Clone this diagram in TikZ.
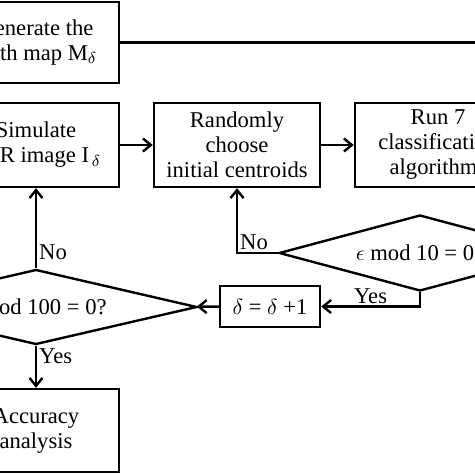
\documentclass[tikz,border=0pt]{standalone}
\usepackage{fontspec}
\setmainfont{Liberation Serif}
\usetikzlibrary{shapes.geometric,arrows.meta}

\begin{document}
\begin{tikzpicture}
  [x=0.5pt,y=-0.5pt,line width=1.2pt,>={Straight Barb[length=4pt,width=6.5pt]},
   font=\fontsize{11.3}{12.5}\selectfont,
   block/.style={draw,rectangle,align=center,minimum width=83pt,minimum height=42pt,inner sep=2pt},
   test/.style={draw,diamond,aspect=4,inner sep=0pt,align=center},
   tag/.style={inner sep=1pt}]
  \useasboundingbox (0,0) rectangle (474,474);

  \node[block,minimum height=40.5pt] (gen) at (36,42.5) {Generate the\\truth map M$_\delta$};
  \node[block] (sim)  at (36,145)  {Simulate\\SAR image I$_{\,\delta}$};
  \node[block] (rand) at (237,145) {Randomly\\choose\\initial centroids};
  \node[block] (run)  at (438,145) {Run 7\\classification\\algorithms};
  \node[test,minimum width=141pt,minimum height=38pt] (eps) at (420,253) {$\epsilon$ mod 10 = 0?};
  \node[block,minimum width=50pt,minimum height=20.5pt] (inc) at (270,306.5) {$\delta$ = $\delta$ +1};
  \node[test,minimum width=161pt,minimum height=37.5pt] (mod) at (36,307) {$\delta$ mod 100 = 0?};
  \node[block,minimum height=41.5pt] (acc) at (36,430.5) {Accuracy\\analysis};
  \coordinate (out) at (490,42.5);

  \draw (gen) -- (out);
  \foreach \from/\to in {sim/rand,rand/run,inc/mod}
    \draw[->] (\from) -- (\to);
  \draw[->] (eps.west) -| node[tag,above right] {No} (rand.south);
  \draw[->] (eps.south) |- node[tag,pos=.75,above] {Yes} (inc.east);
  \draw[->] (mod.north) -- node[tag,pos=.2,right] {No} (sim.south);
  \draw[->] (mod.south) -- node[tag,pos=.25,right] {Yes} (acc.north);

\end{tikzpicture}
\end{document}
